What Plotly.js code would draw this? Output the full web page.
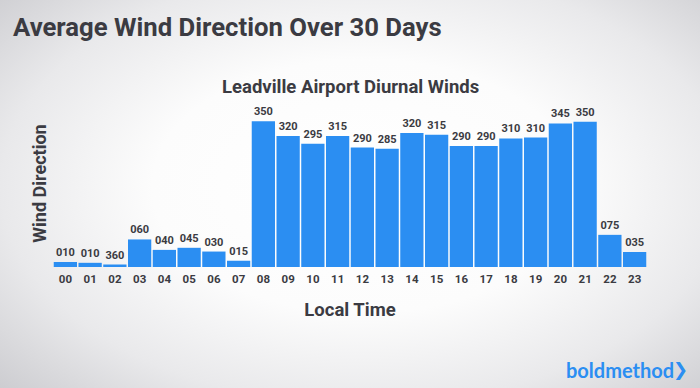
<!DOCTYPE html>
<html>
<head>
<meta charset="utf-8">
<script src="https://cdn.plot.ly/plotly-3.0.1.min.js"></script>
<style>
  html, body { margin: 0; padding: 0; }
  body {
    width: 700px; height: 388px; overflow: hidden;
    background: radial-gradient(ellipse 72% 78% at 52% 48%, #ffffff 0%, #fcfcfc 42%, #e9e9eb 72%, #cbcbcf 100%);
  }
  #chart { width: 700px; height: 388px; }
</style>
</head>
<body>
<div id="chart"></div>
<script>
// Local time (hour) categories
const hours = ['00','01','02','03','04','05','06','07','08','09','10','11',
               '12','13','14','15','16','17','18','19','20','21','22','23'];
// Average wind direction labels as printed on the chart
const directionLabels = ['010','010','360','060','040','045','030','015','350','320','295','315',
                         '290','285','320','315','290','290','310','310','345','350','075','035'];
// Bar heights (degrees) (360 is drawn as a near-zero bar)
const barHeights = [12,10,6,66,41,46,37,15,349,314,295,314,
                    286,283,321,317,290,290,308,310,344,348,77,36];

const titleText = 'Average Wind Direction Over 30 Days';
const subtitleText = 'Leadville Airport Diurnal Winds';
const xTitle = 'Local Time';
const yTitle = 'Wind Direction';
const logoText = 'boldmethod';

const dark = '#3b3b42';
const blue = '#2b8ef2';
const headFont = 'Roboto, "Liberation Sans", Arial, sans-serif';
const numFont = 'Roboto, "Liberation Sans", Arial, sans-serif';

const trace = {
  type: 'bar',
  x: hours,
  y: barHeights,
  text: directionLabels,
  textposition: 'outside',
  cliponaxis: false,
  textfont: { family: numFont, size: 11, color: dark, weight: 'bold' },
  marker: { color: blue, line: { width: 0 } },
  hoverinfo: 'x+text'
};

const layout = {
  width: 700, height: 388,
  margin: { l: 53, r: 53, t: 100, b: 121, pad: 0 },
  paper_bgcolor: 'rgba(0,0,0,0)',
  plot_bgcolor: 'rgba(0,0,0,0)',
  bargap: 0.06,
  showlegend: false,
  title: {
    text: titleText,
    font: { family: headFont, size: 25.7, color: dark, weight: 'bold' },
    x: 13 / 700, xanchor: 'left', xref: 'container',
    y: 1 - 27 / 388, yanchor: 'middle', yref: 'container'
  },
  xaxis: {
    type: 'category',
    range: [-0.5, 23.5],
    showgrid: false, zeroline: false, showline: false,
    ticks: '', ticklabelstandoff: 3,
    tickfont: { family: numFont, size: 11.5, color: dark, weight: 'bold' },
    title: { text: xTitle, standoff: 18, font: { family: headFont, size: 18.5, color: dark, weight: 'bold' } },
    automargin: false
  },
  yaxis: {
    range: [0, 400],
    showgrid: false, zeroline: false, showline: false,
    showticklabels: false, ticks: '',
    title: { text: yTitle, standoff: 0, font: { family: headFont, size: 18, color: dark, weight: 'bold' } },
    automargin: false
  },
  annotations: [
    {
      text: subtitleText, xref: 'paper', yref: 'paper', x: 0.5, y: 1 + 13 / 167,
      xanchor: 'center', yanchor: 'middle', showarrow: false,
      font: { family: headFont, size: 18.5, color: dark, weight: 'bold' }
    },
    {
      text: logoText, xref: 'paper', yref: 'paper', x: 1 + 29 / 594, y: -103 / 167,
      xanchor: 'right', yanchor: 'middle', showarrow: false,
      font: { family: 'Lato, "Open Sans", sans-serif', size: 20, color: blue, weight: 'bold' }
    },
    {
      text: '\u276F', xref: 'paper', yref: 'paper', x: 1 + 43 / 594, y: -103 / 167,
      xanchor: 'right', yanchor: 'middle', showarrow: false,
      font: { family: '"DejaVu Sans", sans-serif', size: 18, color: blue, weight: 'bold' }
    }
  ]
};

Plotly.newPlot('chart', [trace], layout, { displayModeBar: false, staticPlot: true });
</script>
</body>
</html>
